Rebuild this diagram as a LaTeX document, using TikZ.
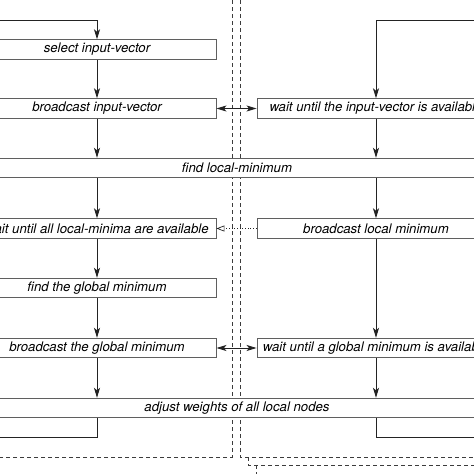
\documentclass[tikz,border=0pt]{standalone}
\usepackage{fontspec}
\setmainfont{TeX Gyre Heros}
\usetikzlibrary{arrows.meta}
\definecolor{boxgray}{RGB}{95,95,95}
\definecolor{linegray}{RGB}{35,35,35}
\definecolor{dashgray}{RGB}{60,60,60}
\begin{document}
\begin{tikzpicture}[x=1pt,y=-1pt,
  box/.style={draw=boxgray,line width=0.9pt,fill=white,minimum height=19.5pt,inner sep=0pt,
    font=\fontsize{13.2}{15}\selectfont\itshape},
  sidebox/.style={box,minimum width=238pt},
  widebox/.style={box,minimum width=500pt},
  tip/.tip={Stealth[length=10pt,width=6pt,inset=2.5pt]},
  flow/.style={draw=linegray,line width=0.9pt,-tip},
  plain/.style={draw=linegray,line width=0.9pt},
  msg/.style={draw=linegray,line width=0.9pt,tip-tip},
  weakmsg/.style={draw=linegray,line width=0.7pt,dotted,-{Triangle[open,length=8pt,width=6pt]}},
  bound/.style={draw=dashgray,line width=0.9pt,dash pattern=on 4pt off 3pt}]
\useasboundingbox (0,0) rectangle (474,474);
\fill[white] (0,0) rectangle (474,474);

% process boundaries
\draw[bound] (232,0) -- (232,457) -- (0,457);
\draw[bound] (240,0) -- (240,457) -- (474,457);
\draw[bound] (248,457) -- (248,465) -- (474,465);
\draw[bound] (256,465) -- (256,474);

% nodes
\node[sidebox] (sel) at (97,49.5) {select input-vector};
\node[sidebox] (bcin) at (97,108.5) {broadcast input-vector};
\node[sidebox] (waitin) at (376,108.5) {wait until the input-vector is available};
\node[widebox] (findloc) at (237,168) {find local-minimum};
\node[sidebox] (waitall) at (97,228.5) {wait until all local-minima are available};
\node[sidebox] (bcloc) at (376,228.5) {broadcast local minimum};
\node[sidebox] (findglob) at (97,288) {find the global minimum};
\node[sidebox] (bcglob) at (97,348) {broadcast the global minimum};
\node[sidebox] (waitglob) at (376,348) {wait until a global minimum is available};
\node[widebox] (adjust) at (237,408) {adjust weights of all local nodes};

\coordinate (inL) at (-5,20);
\coordinate (inR) at (479,20);
\coordinate (outL) at (-5,437);
\coordinate (outR) at (479,437);

% flow left
\draw[flow] (inL) -| (sel.north);
\draw[flow] (sel) -- (bcin);
\draw[flow] (bcin.south) -- (bcin.south |- findloc.north);
\draw[flow] (findloc.south -| waitall.north) -- (waitall.north);
\draw[flow] (waitall) -- (findglob);
\draw[flow] (findglob) -- (bcglob);
\draw[flow] (bcglob.south) -- (bcglob.south |- adjust.north);
\draw[plain] (adjust.south -| bcglob.south) |- (outL);

% flow right
\draw[flow] (inR) -| (waitin.north);
\draw[flow] (waitin.south) -- (waitin.south |- findloc.north);
\draw[flow] (findloc.south -| bcloc.north) -- (bcloc.north);
\draw[flow] (bcloc) -- (waitglob);
\draw[flow] (waitglob.south) -- (waitglob.south |- adjust.north);
\draw[plain] (adjust.south -| waitglob.south) |- (outR);

% messages
\draw[msg] (bcin.east) -- (waitin.west);
\draw[weakmsg] (bcloc.west) -- (waitall.east);
\draw[msg] (bcglob.east) -- (waitglob.west);
\end{tikzpicture}
\end{document}
